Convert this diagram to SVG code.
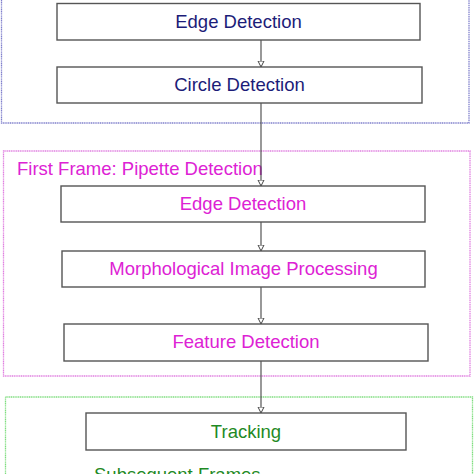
<svg xmlns="http://www.w3.org/2000/svg" width="474" height="474" viewBox="0 0 474 474">
<style>
.grp{fill:none;stroke-width:1.3;stroke-dasharray:1.2 0.6}
.node{fill:#fff;stroke:#555;stroke-width:1.4}
.t{font-family:"Liberation Sans",Arial,sans-serif;font-size:18.5px;text-anchor:middle}
.blue{fill:#1c1c78}
.pink{fill:#dd22d4}
.green{fill:#1f8a25}
.conn{stroke:#444;stroke-width:1.1;fill:none;marker-end:url(#arr)}
</style>
<defs>
<marker id="arr" markerWidth="8" markerHeight="8" refX="6.5" refY="3.5" orient="auto" markerUnits="userSpaceOnUse">
<path d="M0.5,0.5 L6.5,3.5 L0.5,6.5 Z" fill="#fff" stroke="#444" stroke-width="1"/>
</marker>
</defs>
<rect width="474" height="474" fill="#fff"/>
<g id="group-top">
<rect class="grp" x="1.5" y="-10" width="467.5" height="133" stroke="#8080cc"/>
</g>
<g id="group-first-frame">
<rect class="grp" x="3.5" y="151" width="466.5" height="225" stroke="#e080e0"/>
<text class="t pink" x="17" y="175" style="text-anchor:start">First Frame: Pipette Detection</text>
</g>
<g id="group-subsequent">
<rect class="grp" x="5.5" y="397" width="467" height="90" stroke="#80dd80"/>
<text class="t green" x="94" y="481" style="text-anchor:start">Subsequent Frames</text>
</g>
<g id="connectors">
<line class="conn" x1="261" y1="40" x2="261" y2="67"/>
<line class="conn" x1="261" y1="103" x2="261" y2="186"/>
<line class="conn" x1="261" y1="222" x2="261" y2="251"/>
<line class="conn" x1="261" y1="287" x2="261" y2="324"/>
<line class="conn" x1="261" y1="361" x2="261" y2="413"/>
</g>
<g id="node-edge1">
<rect class="node" x="57" y="3.5" width="363" height="36.5"/>
<text class="t blue" x="238.5" y="27.5">Edge Detection</text>
</g>
<g id="node-circle">
<rect class="node" x="57" y="67" width="365" height="36"/>
<text class="t blue" x="239.5" y="91">Circle Detection</text>
</g>
<g id="node-edge2">
<rect class="node" x="61" y="186" width="364" height="36"/>
<text class="t pink" x="243" y="210">Edge Detection</text>
</g>
<g id="node-morph">
<rect class="node" x="62" y="251" width="363" height="36"/>
<text class="t pink" x="243.5" y="275">Morphological Image Processing</text>
</g>
<g id="node-feature">
<rect class="node" x="64" y="324" width="364" height="37"/>
<text class="t pink" x="246" y="348">Feature Detection</text>
</g>
<g id="node-tracking">
<rect class="node" x="86" y="413" width="320" height="37"/>
<text class="t green" x="246" y="437.5">Tracking</text>
</g>
</svg>
